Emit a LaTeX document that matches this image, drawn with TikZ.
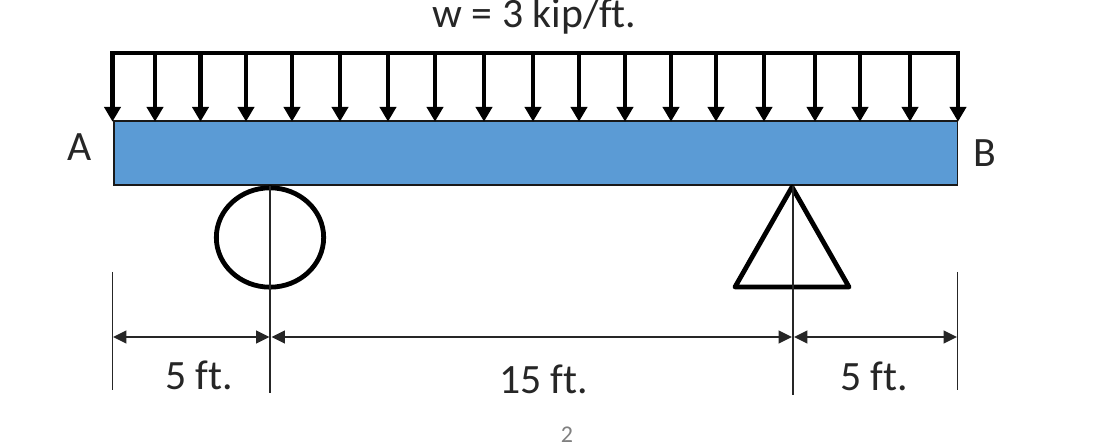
\documentclass[tikz,border=0pt]{standalone}
\usepackage{fontspec}
\setmainfont{Carlito}[Ligatures=NoCommon]
\usetikzlibrary{arrows.meta,shapes.geometric}
\definecolor{beamblue}{HTML}{5B9BD5}
\definecolor{txt}{HTML}{262626}
\tikzset{
  heavy/.style={line width=3.6pt,black},
  loadarrow/.style={line width=3.6pt,black,-{Triangle[width=12pt,length=11pt]},shorten >=-0.5pt},
  thin line/.style={line width=1.1pt,black!85},
  dimarrow/.style={line width=1.3pt,black!85,{Triangle[width=9.5pt,length=10pt]}-{Triangle[width=9.5pt,length=10pt]}},
  lbl/.style={font=\fontsize{31.3}{33}\selectfont,text=txt,inner sep=0pt,anchor=base},
}
\begin{document}
\begin{tikzpicture}[x=0.75pt,y=-0.75pt]
\useasboundingbox (0,0) rectangle (1094,448);
\fill[white] (0,0) rectangle (1094,448);
\node[draw=black!90,line width=1pt,fill=beamblue,minimum width=632.5pt,minimum height=48pt,inner sep=0pt,outer sep=0pt] (beam) at (535.5,153) {};
\coordinate (loadL) at (110,53);
\coordinate (loadR) at (960,53);
\draw[heavy] (loadL) -- (loadR);
\foreach \n/\x in {a/112.5,b/155,c/200.5,d/246,e/292,f/340,g/388,h/435,i/484,j/533,k/579,l/625,m/671,n/716,o/764,p/815,q/860,r/910,s/958}{
  \coordinate (t\n) at (\x,53);
  \coordinate (u\n) at (\x,121);
  \draw[loadarrow] (t\n) -- (u\n);
}
\node[draw=black,line width=3.6pt,ellipse,minimum width=80.5pt,minimum height=74.5pt,inner sep=0pt,outer sep=0pt] (roller) at (270,237.5) {};
\coordinate (pT) at (792,187);
\coordinate (pL) at (735,287);
\coordinate (pR) at (849,287);
\draw[heavy,line join=round] (pT) -- (pR) -- (pL) -- cycle;
\coordinate (e1t) at (112.5,272); \coordinate (e1b) at (112.5,390);
\coordinate (e2t) at (270,186);   \coordinate (e2b) at (270,393);
\coordinate (e3t) at (793,186);   \coordinate (e3b) at (793,395);
\coordinate (e4t) at (957.5,272); \coordinate (e4b) at (957.5,390);
\foreach \n in {1,2,3,4}{\draw[thin line] (e\n t) -- (e\n b);}
\coordinate (d1) at (113,337); \coordinate (d2) at (269.5,337);
\coordinate (d3) at (271.5,337); \coordinate (d4) at (792,337);
\coordinate (d5) at (794,337); \coordinate (d6) at (957,337);
\draw[dimarrow] (d1) -- (d2);
\draw[dimarrow] (d3) -- (d4);
\draw[dimarrow] (d5) -- (d6);
\node[lbl] (w) at (534.5,28) {w = 3 kip/ft.};
\node[lbl] (A) at (80,161) {A};
\node[lbl] (B) at (985,167) {B};
\node[lbl] (l1) at (199,389) {5 ft.};
\node[lbl] (l2) at (543.5,393) {15 ft.};
\node[lbl] (l3) at (874,390) {5 ft.};
\node[inner sep=0pt,anchor=base,text=black!50,font=\fontsize{18}{20}\selectfont] (pg) at (567,442) {2};
\end{tikzpicture}
\end{document}
